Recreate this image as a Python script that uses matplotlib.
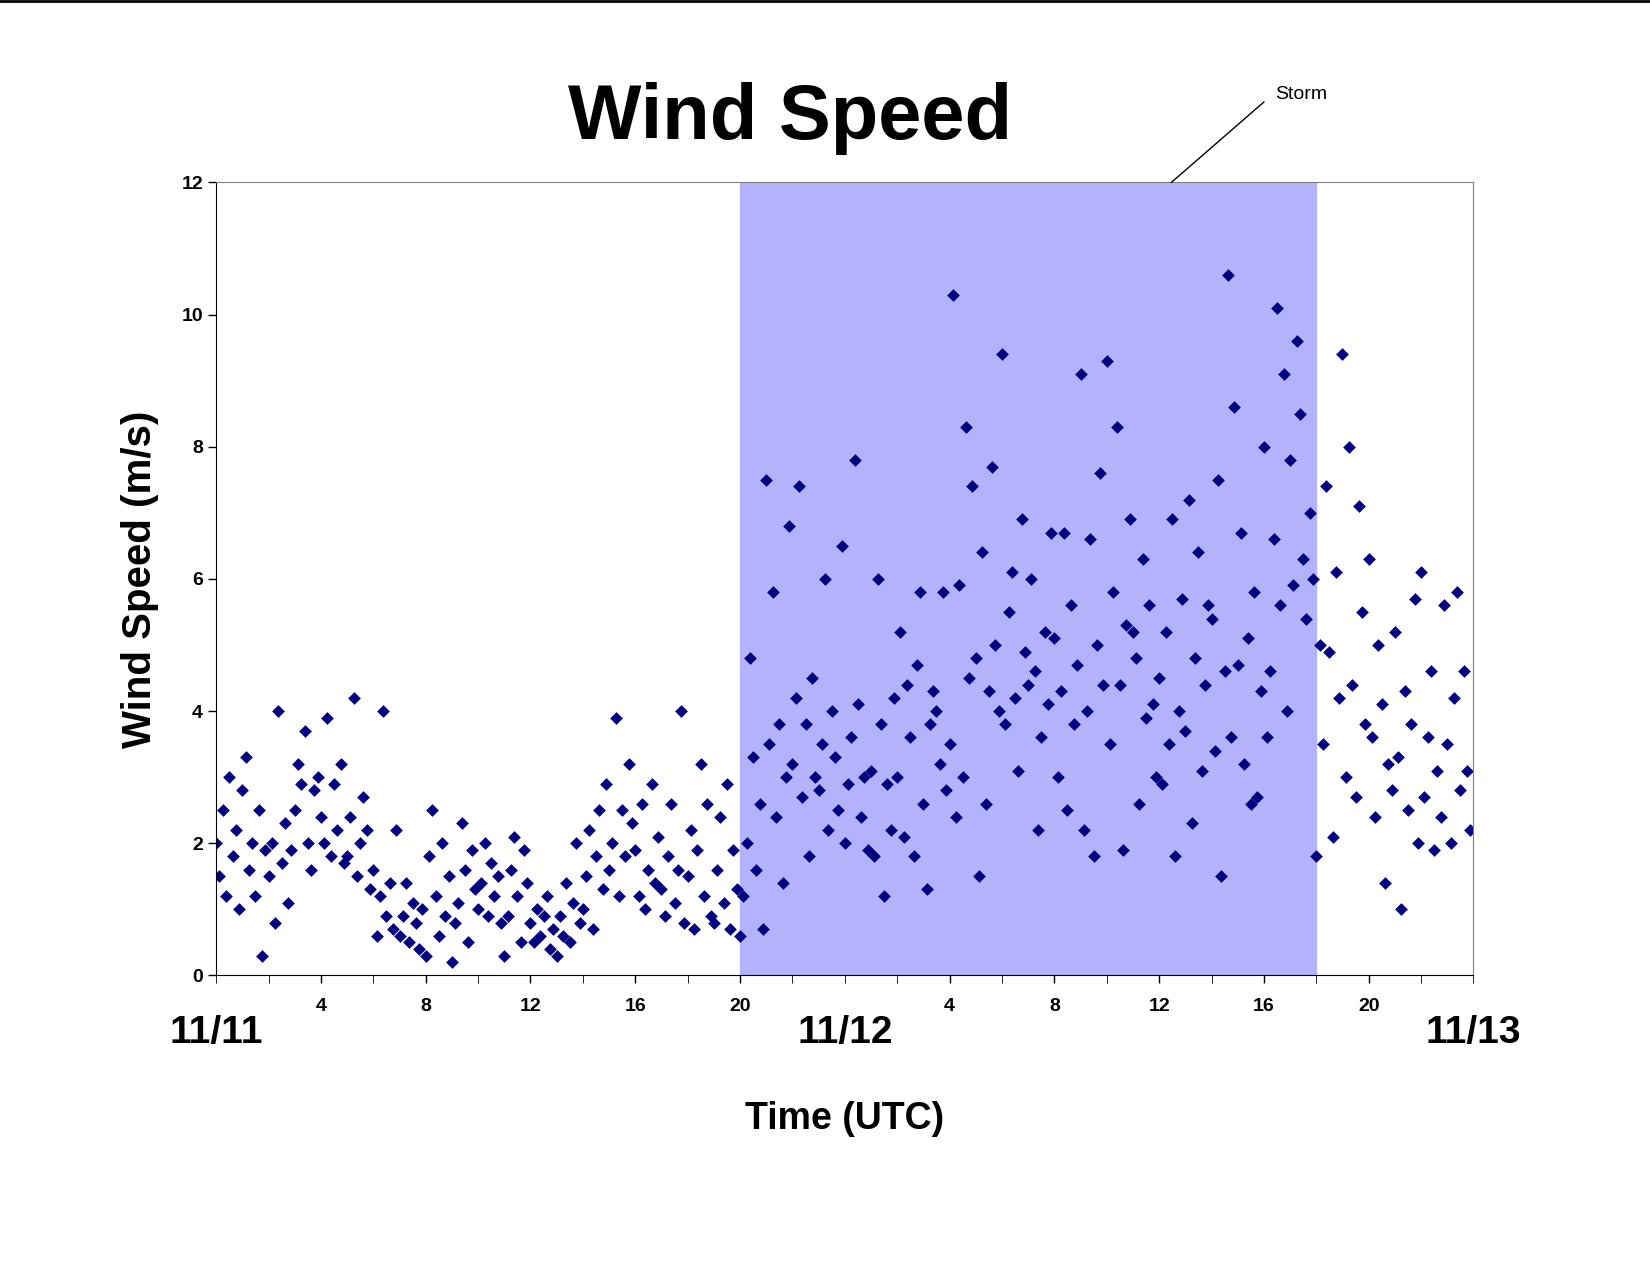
import numpy as np
import matplotlib
matplotlib.use('Agg')
import matplotlib.pyplot as plt

plt.rcParams['font.family'] = ['Liberation Sans', 'DejaVu Sans']

# wind speed readings (m/s), 8 readings per hour, hours 0..47 from 11/11 00 UTC
hourly = [
    [2.0, 1.5, 2.5, 1.2, 3.0, 1.8, 2.2, 1.0],
    [2.8, 3.3, 1.6, 2.0, 1.2, 2.5, 0.3, 1.9],
    [1.5, 2.0, 0.8, 4.0, 1.7, 2.3, 1.1, 1.9],
    [2.5, 3.2, 2.9, 3.7, 2.0, 1.6, 2.8, 3.0],
    [2.4, 2.0, 3.9, 1.8, 2.9, 2.2, 3.2, 1.7],
    [1.8, 2.4, 4.2, 1.5, 2.0, 2.7, 2.2, 1.3],
    [1.6, 0.6, 1.2, 4.0, 0.9, 1.4, 0.7, 2.2],
    [0.6, 0.9, 1.4, 0.5, 1.1, 0.8, 0.4, 1.0],
    [0.3, 1.8, 2.5, 1.2, 0.6, 2.0, 0.9, 1.5],
    [0.2, 0.8, 1.1, 2.3, 1.6, 0.5, 1.9, 1.3],
    [1.0, 1.4, 2.0, 0.9, 1.7, 1.2, 1.5, 0.8],
    [0.3, 0.9, 1.6, 2.1, 1.2, 0.5, 1.9, 1.4],
    [0.8, 0.5, 1.0, 0.6, 0.9, 1.2, 0.4, 0.7],
    [0.3, 0.9, 0.6, 1.4, 0.5, 1.1, 2.0, 0.8],
    [1.0, 1.5, 2.2, 0.7, 1.8, 2.5, 1.3, 2.9],
    [1.6, 2.0, 3.9, 1.2, 2.5, 1.8, 3.2, 2.3],
    [1.9, 1.2, 2.6, 1.0, 1.6, 2.9, 1.4, 2.1],
    [1.3, 0.9, 1.8, 2.6, 1.1, 1.6, 4.0, 0.8],
    [1.5, 2.2, 0.7, 1.9, 3.2, 1.2, 2.6, 0.9],
    [0.8, 1.6, 2.4, 1.1, 2.9, 0.7, 1.9, 1.3],
    [0.6, 1.2, 2.0, 4.8, 3.3, 1.6, 2.6, 0.7],
    [7.5, 3.5, 5.8, 2.4, 3.8, 1.4, 3.0, 6.8],
    [3.2, 4.2, 7.4, 2.7, 3.8, 1.8, 4.5, 3.0],
    [2.8, 3.5, 6.0, 2.2, 4.0, 3.3, 2.5, 6.5],
    [2.0, 2.9, 3.6, 7.8, 4.1, 2.4, 3.0, 1.9],
    [3.1, 1.8, 6.0, 3.8, 1.2, 2.9, 2.2, 4.2],
    [3.0, 5.2, 2.1, 4.4, 3.6, 1.8, 4.7, 5.8],
    [2.6, 1.3, 3.8, 4.3, 4.0, 3.2, 5.8, 2.8],
    [3.5, 10.3, 2.4, 5.9, 3.0, 8.3, 4.5, 7.4],
    [4.8, 1.5, 6.4, 2.6, 4.3, 7.7, 5.0, 4.0],
    [9.4, 3.8, 5.5, 6.1, 4.2, 3.1, 6.9, 4.9],
    [4.4, 6.0, 4.6, 2.2, 3.6, 5.2, 4.1, 6.7],
    [5.1, 3.0, 4.3, 6.7, 2.5, 5.6, 3.8, 4.7],
    [9.1, 2.2, 4.0, 6.6, 1.8, 5.0, 7.6, 4.4],
    [9.3, 3.5, 5.8, 8.3, 4.4, 1.9, 5.3, 6.9],
    [5.2, 4.8, 2.6, 6.3, 3.9, 5.6, 4.1, 3.0],
    [4.5, 2.9, 5.2, 3.5, 6.9, 1.8, 4.0, 5.7],
    [3.7, 7.2, 2.3, 4.8, 6.4, 3.1, 4.4, 5.6],
    [5.4, 3.4, 7.5, 1.5, 4.6, 10.6, 3.6, 8.6],
    [4.7, 6.7, 3.2, 5.1, 2.6, 5.8, 2.7, 4.3],
    [8.0, 3.6, 4.6, 6.6, 10.1, 5.6, 9.1, 4.0],
    [7.8, 5.9, 9.6, 8.5, 6.3, 5.4, 7.0, 6.0],
    [1.8, 5.0, 3.5, 7.4, 4.9, 2.1, 6.1, 4.2],
    [9.4, 3.0, 8.0, 4.4, 2.7, 7.1, 5.5, 3.8],
    [6.3, 3.6, 2.4, 5.0, 4.1, 1.4, 3.2, 2.8],
    [5.2, 3.3, 1.0, 4.3, 2.5, 3.8, 5.7, 2.0],
    [6.1, 2.7, 3.6, 4.6, 1.9, 3.1, 2.4, 5.6],
    [3.5, 2.0, 4.2, 5.8, 2.8, 4.6, 3.1, 2.2],
]
storm_start, storm_end = 20, 42   # hours since 11/11 00 UTC
hour_ticks = [4, 8, 12, 16, 20, 28, 32, 36, 40, 44]
hour_labels = ['4', '8', '12', '16', '20', '4', '8', '12', '16', '20']
dates = ['11/11', '11/12', '11/13']

speed = np.array(hourly).ravel()
per_hour = len(hourly[0])
t = np.arange(len(speed)) / per_hour

fig = plt.figure(figsize=(16.5, 12.75), dpi=100)
ax = fig.add_axes([0.131, 0.235, 0.762, 0.622])

ax.axvspan(storm_start, storm_end, color='#b3b3fb', zorder=0)
ax.scatter(t, speed, marker='D', s=42, color='#000080', linewidths=0, zorder=2)

ax.set_xlim(0, 48)
ax.set_ylim(0, 12)
ax.set_yticks(np.arange(0, 13, 2))
ax.set_xticks(hour_ticks)
ax.set_xticklabels(hour_labels)
ax.set_xticks(np.arange(0, 49, 2), minor=True)
ax.tick_params(axis='both', labelsize=14, length=6, width=1)
ax.tick_params(axis='x', which='minor', length=6)
ax.tick_params(axis='x', pad=10)
for lab in ax.get_xticklabels() + ax.get_yticklabels():
    lab.set_fontweight('bold')
for s in ax.spines.values():
    s.set_color('#808080')
ax.spines['left'].set_color('black')
ax.spines['bottom'].set_color('black')

for i, d in enumerate(dates):
    ax.text(i * 24, -0.6, d, ha='center', va='top', fontsize=28, fontweight='bold')

ax.set_ylabel('Wind Speed (m/s)', fontsize=29, fontweight='bold', labelpad=16)
ax.set_xlabel('Time (UTC)', fontsize=27, fontweight='bold', labelpad=62)
fig.text(0.479, 0.907, 'Wind Speed', ha='center', va='center', fontsize=56, fontweight='bold')

# storm label with leader line
fig.text(0.773, 0.926, 'Storm', ha='left', va='center', fontsize=14)
fig.add_artist(plt.Line2D([0.766, 0.710], [0.920, 0.857], color='black', lw=1))
fig.add_artist(plt.Line2D([0, 1], [0.999, 0.999], color='black', lw=2))

fig.savefig('out.png', dpi=100)
